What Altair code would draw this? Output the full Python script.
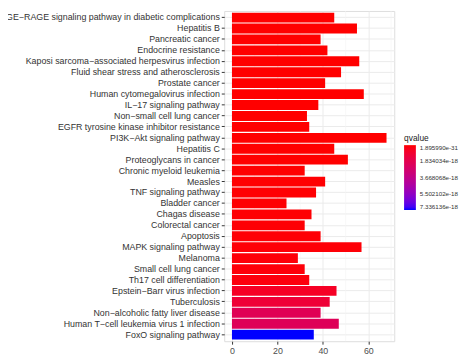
import altair as alt
import pandas as pd

pathways = [
    "AGE−RAGE signaling pathway in diabetic complications",
    "Hepatitis B",
    "Pancreatic cancer",
    "Endocrine resistance",
    "Kaposi sarcoma−associated herpesvirus infection",
    "Fluid shear stress and atherosclerosis",
    "Prostate cancer",
    "Human cytomegalovirus infection",
    "IL−17 signaling pathway",
    "Non−small cell lung cancer",
    "EGFR tyrosine kinase inhibitor resistance",
    "PI3K−Akt signaling pathway",
    "Hepatitis C",
    "Proteoglycans in cancer",
    "Chronic myeloid leukemia",
    "Measles",
    "TNF signaling pathway",
    "Bladder cancer",
    "Chagas disease",
    "Colorectal cancer",
    "Apoptosis",
    "MAPK signaling pathway",
    "Melanoma",
    "Small cell lung cancer",
    "Th17 cell differentiation",
    "Epstein−Barr virus infection",
    "Tuberculosis",
    "Non−alcoholic fatty liver disease",
    "Human T−cell leukemia virus 1 infection",
    "FoxO signaling pathway",
]
counts = [45, 55, 39, 42, 56, 48, 41, 58, 38, 33, 34, 68, 45, 51, 32,
          41, 37, 24, 35, 32, 39, 57, 29, 32, 34, 46, 43, 39, 47, 36]
qvalues = [1e-24, 5e-26, 2e-25, 3e-24, 1e-25, 5e-24, 2e-23, 3e-24, 1e-22, 4e-22,
           1e-21, 1.89599e-31, 2e-21, 5e-21, 1e-20, 2e-20, 3e-20, 4e-20, 5e-20, 6e-20,
           7e-20, 8e-20, 9e-20, 1e-19, 1.5e-19, 6e-19, 1.1e-18, 2.0e-18, 2.1e-18, 7.336136e-18]
legend_values = [1.89599e-31, 1.834034e-18, 3.668068e-18, 5.502102e-18, 7.336136e-18]
x_ticks = [0, 20, 40, 60]
minor_ticks = [10, 30, 50, 70]

df = pd.DataFrame({"pathway": pathways, "count": counts, "qvalue": qvalues})
df["neg_q"] = -df["qvalue"]
minor_df = pd.DataFrame({"count": minor_ticks})

xscale = alt.Scale(domain=[-3.4, 71.4], nice=False)

minor = alt.Chart(minor_df).mark_rule(color="#F4F4F4", strokeWidth=0.6).encode(
    x=alt.X("count:Q", scale=xscale)
)

bars = alt.Chart(df).mark_bar(opacity=1).encode(
    x=alt.X("count:Q", scale=xscale,
            axis=alt.Axis(values=x_ticks, title=None, grid=True, gridColor="#EBEBEB",
                          gridWidth=1, domain=False, tickColor="#333333", tickSize=3,
                          labelFontSize=9, labelColor="#4D4D4D", labelPadding=3)),
    x2=alt.datum(0),
    y=alt.Y("pathway:N", sort=pathways,
            scale=alt.Scale(paddingInner=0.1, paddingOuter=0.15),
            axis=alt.Axis(title=None, grid=True, gridColor="#EBEBEB", gridWidth=1,
                          bandPosition=0.5, domain=False, tickColor="#333333", tickSize=3,
                          labelFontSize=9, labelColor="#333333", labelPadding=2,
                          labelLimit=500)),
    color=alt.Color("neg_q:Q",
                    scale=alt.Scale(domain=[-7.336136e-18, -1.89599e-31],
                                    range=["#0000FF", "#FF0000"],
                                    interpolate="lab", nice=False, zero=False),
                    legend=alt.Legend(title="qvalue", orient="none", legendX=183, legendY=125,
                                      direction="vertical", gradientLength=66,
                                      gradientThickness=12, gradientStrokeWidth=0,
                                      values=[-v for v in legend_values],
                                      labelExpr="format(-datum.value, '.6e')",
                                      titleFontSize=8.5, titleFontWeight="normal",
                                      titleColor="#222222", labelFontSize=6.3,
                                      labelColor="#333333", titlePadding=3, labelOffset=4,
                                      tickCount=5)),
)

chart = alt.layer(minor, bars).properties(
    width=173, height=336,
    autosize="none",
    padding={"left": 220, "top": 0, "right": 73, "bottom": 12},
).configure_view(stroke="#555555", strokeWidth=1).configure(font="Liberation Sans")

chart.save("out.html", embed_options={"renderer": "svg", "actions": False})
